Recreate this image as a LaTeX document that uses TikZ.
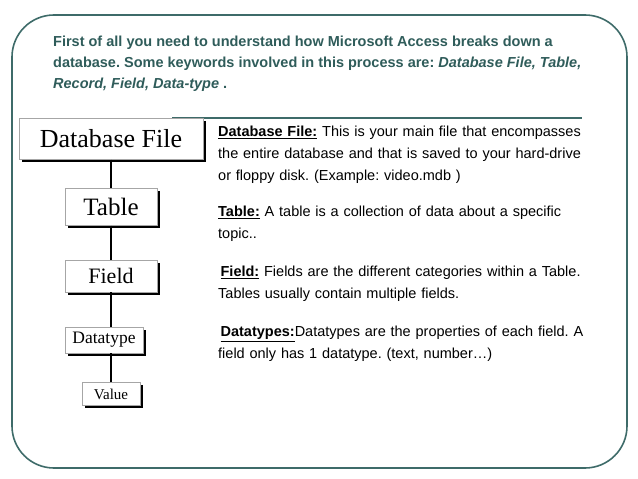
\documentclass[tikz,border=0pt]{standalone}
\usepackage{fontspec}
\setmainfont{Liberation Sans}
\newfontfamily\boxfont{Liberation Serif}
\usetikzlibrary{positioning,shadows}
\definecolor{frameteal}{HTML}{3E6B69}
\definecolor{textteal}{HTML}{2F5C5A}
\tikzset{
  levelbox/.style={draw=gray!70,fill=white,inner sep=0pt,
    drop shadow={shadow xshift=2.5pt,shadow yshift=-2.5pt,opacity=1,fill=black},
    font=\boxfont},
  infotext/.style={anchor=north west,align=left,text width=400pt,
    font=\fontsize{14.5}{22}\selectfont,inner sep=0pt}
}
\begin{document}
\frenchspacing
\begin{tikzpicture}[x=1pt,y=-1pt]
\useasboundingbox (0,0) rectangle (638,479);
\draw[frameteal,line width=1.6pt,rounded corners=42pt] (12,15) rectangle (627,468);
\node[anchor=north west,inner sep=0pt,align=left,text=textteal,
  font=\bfseries\fontsize{14.5}{21}\selectfont] (intro) at (53,36)
  {First of all you need to understand how Microsoft Access breaks down a\\
   database. Some keywords involved in this process are: \textit{Database File, Table,}\\
   \textit{Record, Field, Data-type} .};
\draw[frameteal,line width=2.5pt] (172,118) coordinate (rulea) -- (582,118) coordinate (ruleb);
% hierarchy of boxes
\node[levelbox,minimum width=184pt,minimum height=41pt,font=\boxfont\fontsize{26}{26}\selectfont] (dbfile) at (111,139) {Database File};
\node[levelbox,minimum width=92pt,minimum height=37pt,font=\boxfont\fontsize{25}{25}\selectfont] (table) at (111,207) {Table};
\node[levelbox,minimum width=92pt,minimum height=32pt,font=\boxfont\fontsize{22}{22}\selectfont] (field) at (111,276) {Field};
\node[levelbox,minimum width=78pt,minimum height=26pt,font=\boxfont\fontsize{17.5}{17.5}\selectfont] (datatype) at (104,340) {Datatype};
\node[levelbox,minimum width=58pt,minimum height=23pt,font=\boxfont\fontsize{15}{15}\selectfont] (value) at (111,394) {Value};
\begin{scope}[line width=2pt]
\draw (dbfile) -- (table);
\draw (table) -- (field);
\draw (field) -- (datatype.north -| field);
\draw (datatype.south -| field) -- (value);
\end{scope}
% descriptions
\node[infotext] (desc1) at (218,126) {\textbf{\underline{Database File:}} This is your main file that encompasses\\the entire database and that is saved to your hard-drive\\or floppy disk. (Example: video.mdb )};
\node[infotext] (desc2) at (218,206) {\textbf{\underline{Table:}} A table is a collection of data about a specific\\topic..};
\node[infotext] (desc3) at (218,266) {\,\textbf{\underline{Field:}} Fields are the different categories within a Table.\\Tables usually contain multiple fields.};
\node[infotext] (desc4) at (218,326) {\,\textbf{\underline{Datatypes:}}Datatypes are the properties of each field. A\\field only has 1 datatype. (text, number\ldots)};
\end{tikzpicture}
\end{document}
